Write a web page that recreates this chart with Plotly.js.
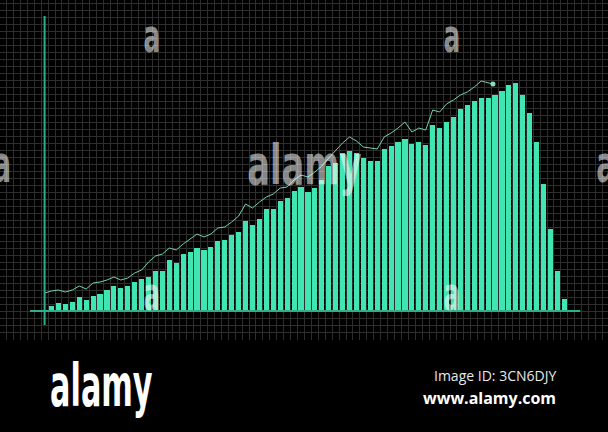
<!DOCTYPE html>
<html>
<head>
<meta charset="utf-8">
<script src="https://cdn.plot.ly/plotly-3.0.1.min.js"></script>
<style>html,body{margin:0;padding:0;background:#000;}#chart{width:608px;height:432px;}</style>
</head>
<body>
<div id="chart"></div>
<script>
// Bar heights (index 1..75)
var barValues = [5,8,7,9,14,11,15,17,21,25,23,25,29,32,34,40,40,51,48,57,59,63,61,64,70,71,76,79,90,86,92,102,102,110,113,120,124,119,123,131,145,148,158,160,158,153,150,150,162,165,169,172,167,169,166,186,183,189,194,202,206,210,213,213,216,220,226,228,216,198,169,127,82,40,12];
// Line values (index 0..64)
var lineValues = [18,20,21,19,21,25,22,28,29,31,34,31,33,38,41,49,55,57,63,61,67,72,77,74,77,83,84,89,95,107,103,109,114,117,123,124,131,136,134,139,145,153,161,168,174,170,164,163,162,174,178,183,189,179,183,181,201,199,207,211,216,219,224,230,228];
var lineEndX = 64.7;
var lineEndValue = 227;

var barX = barValues.map(function(v,i){return i+1;});
var lineX = lineValues.map(function(v,i){return i;});
lineX.push(lineEndX);
var lineY = lineValues.slice(); lineY.push(lineEndValue);

var traces = [
  {type:'bar', x:barX, y:barValues, width:0.74,
   marker:{color:'#3fe6b2', line:{width:0}}, hoverinfo:'none'},
  {type:'scatter', mode:'lines', x:lineX, y:lineY,
   line:{color:'#7ccfae', width:1}, hoverinfo:'none'},
  {type:'scatter', mode:'markers', x:[lineEndX], y:[lineEndValue],
   marker:{color:'#8fdcbc', size:5, symbol:'circle'}, hoverinfo:'none'}
];

var wmFont = 'Liberation Sans Narrow, DejaVu Sans Condensed, Arial Narrow, sans-serif';
var squeeze = [];
function wm(x, y, txt, size, col, sq){
  squeeze.push(sq);
  return {xref:'paper', yref:'paper', x:x/608, y:1-y/432, xanchor:'center', yanchor:'middle',
          text:'<b>'+txt+'</b>', showarrow:false, font:{family:wmFont, size:size, color:col}};
}
var wmc = 'rgba(255,255,255,0.55)';
var annotations = [
  wm(152, 36, 'a', 46, wmc, 0.6),
  wm(452, 36, 'a', 46, wmc, 0.6),
  wm(152, 294, 'a', 46, wmc, 0.6),
  wm(452, 294, 'a', 46, wmc, 0.6),
  wm(2, 164, 'a', 52, wmc, 0.6),
  wm(606, 164, 'a', 52, wmc, 0.6),
  wm(304, 164, 'alamy', 56, wmc, 0.67),
  wm(101, 386, 'alamy', 58, '#ffffff', 0.58)
];
squeeze.push(1); squeeze.push(1);
annotations.push(
  {xref:'paper', yref:'paper', x:558/608, y:1-375/432, xanchor:'right', yanchor:'middle',
   text:'Image ID: 3CN6DJY', showarrow:false, font:{family:'Open Sans, Noto Sans, sans-serif', size:14, color:'#e8e8e8'}},
  {xref:'paper', yref:'paper', x:558/608, y:1-398/432, xanchor:'right', yanchor:'middle',
   text:'<b>www.alamy.com</b>', showarrow:false, font:{family:'Open Sans, Noto Sans, sans-serif', size:16, color:'#ffffff'}}
);

var axisColor = '#2fae8c';
var shapes = [
  {type:'line', xref:'x', yref:'y', x0:0, x1:0, y0:-14, y1:295, line:{color:axisColor, width:2}},
  {type:'line', xref:'x', yref:'y', x0:-2.1, x1:77.3, y0:0, y1:0, line:{color:axisColor, width:2}}
];

var layout = {
  width:608, height:432,
  margin:{l:0, r:0, t:0, b:0, pad:0},
  paper_bgcolor:'#000', plot_bgcolor:'#000',
  showlegend:false,
  bargap:0,
  xaxis:{range:[-6.436, 81.3], showgrid:true, gridcolor:'#2e2e2e', gridwidth:1,
         dtick:1, tick0:0.5, zeroline:false, showticklabels:false, ticks:'', showline:false, fixedrange:true},
  yaxis:{domain:[92/432, 1], range:[-29, 311], showgrid:true, gridcolor:'#2e2e2e', gridwidth:1,
         dtick:7, tick0:0, zeroline:false, showticklabels:false, ticks:'', showline:false, fixedrange:true},
  shapes:shapes,
  annotations:annotations
};

var gd = document.getElementById('chart');
Plotly.newPlot(gd, traces, layout, {staticPlot:true, displayModeBar:false}).then(function(){
  var groups = gd.querySelectorAll('g.annotation');
  groups.forEach(function(g){
    var idx = parseInt(g.getAttribute('data-index'), 10);
    var s = squeeze[idx];
    if (!s || s === 1) return;
    var t = g.querySelector('text.annotation-text');
    if (!t) return;
    var bb = t.getBBox();
    var cx = bb.x + bb.width / 2;
    t.setAttribute('transform', 'translate(' + cx + ',0) scale(' + s + ',1) translate(' + (-cx) + ',0)');
  });
});
</script>
</body>
</html>
